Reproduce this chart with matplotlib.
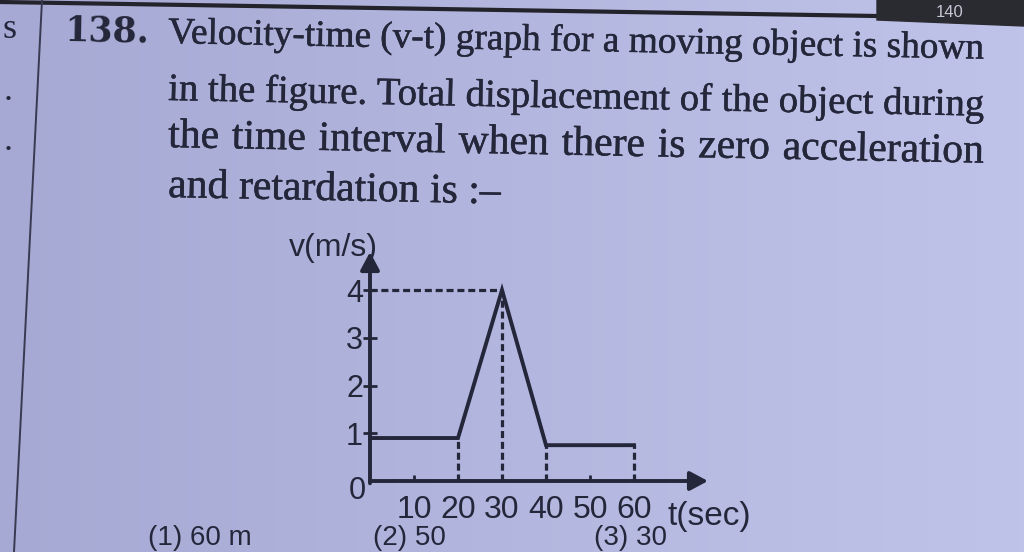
import numpy as np
import matplotlib
matplotlib.use("Agg")
import matplotlib.pyplot as plt
import matplotlib.patheffects as pe

# v-t graph data
t = [0, 20, 30, 40, 60]
v = [0.9, 0.9, 4.0, 0.75, 0.75]
x_ticks = [10, 20, 30, 40, 50, 60]
y_ticks = [1, 2, 3, 4]

question_no = "138."
question_lines = [
    "Velocity-time (v-t) graph for a moving object is shown",
    "in the figure. Total displacement of the object during",
    "the time interval when there is zero acceleration",
    "and retardation is :\u2013",
]
options = ["(1) 60 m", "(2) 50", "(3) 30"]

ink = "#24263a"
paper_left = np.array([166, 169, 211]) / 255
paper_right = np.array([192, 195, 233]) / 255

W, H, DPI = 1024, 552, 100
fig = plt.figure(figsize=(W / DPI, H / DPI), dpi=DPI)

# background "page" axes in pixel coordinates
bg = fig.add_axes([0, 0, 1, 1])
bg.set_xlim(0, W)
bg.set_ylim(H, 0)
bg.axis("off")
g = np.linspace(0, 1, 256)[:, None]
grad = paper_left + (paper_right - paper_left) * g
bg.imshow(grad[None, :, :], extent=[0, W, H, 0], aspect="auto", zorder=0)

# page edge / header bits
bg.plot([0, 877], [2, 16], color="#22232b", lw=3, zorder=1)
bg.fill([877, W, W, 877], [0, 0, 26, 20], color="#2a2b31", zorder=1)
bg.text(950, 17, "140", color="#c4c5d2", fontsize=12, ha="center",
        va="baseline", family="Liberation Sans", zorder=2)
bg.plot([42, 14], [0, H], color="#383a52", lw=1.4, zorder=1)
bg.text(2, 38, "s", fontsize=26, family="Liberation Serif", color=ink)
bg.text(4, 100, ".", fontsize=26, family="Liberation Serif", color=ink)
bg.text(4, 150, ".", fontsize=26, family="Liberation Serif", color=ink)

angle = 1.1
slope = np.tan(np.radians(angle))
renderer = fig.canvas.get_renderer()
heavy = [pe.withStroke(linewidth=0.35, foreground=ink)]


def put_line(text, x0, x1, y0, fs_max, justify=True):
    words = text.split(" ")
    objs = [bg.text(0, 0, w, fontsize=fs_max, family="Liberation Serif",
                    color=ink, ha="left", va="baseline", path_effects=heavy)
            for w in words]
    widths = [o.get_window_extent(renderer).width for o in objs]
    space = 0.25 * fs_max * DPI / 72
    natural = sum(widths) + space * (len(words) - 1)
    scale = 1.0
    if justify and natural > x1 - x0:
        scale = (x1 - x0) / natural
    widths = [w * scale for w in widths]
    if justify and len(words) > 1:
        gap = (x1 - x0 - sum(widths)) / (len(words) - 1)
    else:
        gap = space * scale
    x = x0
    for o, w in zip(objs, widths):
        o.set_fontsize(fs_max * scale)
        o.set_position((x, y0 + slope * (x - x0)))
        o.set_rotation(-angle)
        o.set_rotation_mode("anchor")
        x += w + gap


bg.text(65, 41, question_no, fontsize=25, family="DejaVu Serif",
        weight="bold", color=ink, rotation=-angle, rotation_mode="anchor")
baselines = [43, 100, 147, 197]
for i, (line, yb) in enumerate(zip(question_lines, baselines)):
    put_line(line, 168, 984, yb, 30, justify=(i < len(question_lines) - 1))

# answer options sit on the bottom edge of the photo
for txt, xo in zip(options, [148, 373, 594]):
    bg.text(xo, 545, txt, fontsize=20, family="Liberation Sans", color=ink)

# graph axes placed in pixels: t=0 at x=370, 4.4 px per s; v=0 at y=481, 47.75 px per m/s
x_org, y_org, x_tip, y_tip = 370, 481, 708, 252
ax = fig.add_axes([x_org / W, (H - y_org) / H, (x_tip - x_org) / W, (y_org - y_tip) / H])
ax.set_facecolor("none")
ax.set_xlim(0, (x_tip - x_org) / 4.4)
ax.set_ylim(0, (y_org - y_tip) / 47.75)
for s in ax.spines.values():
    s.set_visible(False)

arrow = dict(arrowstyle="-|>,head_length=0.6,head_width=0.32", lw=2.8,
             color=ink, mutation_scale=18, shrinkA=0, shrinkB=0)
ax.annotate("", xy=(1, 0), xytext=(0, 0), xycoords="axes fraction",
            arrowprops=arrow, annotation_clip=False)
ax.annotate("", xy=(0, 1), xytext=(0, -0.01), xycoords="axes fraction",
            arrowprops=arrow, annotation_clip=False)

ax.plot(t, v, color=ink, lw=2.8, clip_on=False, solid_joinstyle="miter")
dash = (0, (2.2, 1.2))
ax.vlines(t[1:], 0, v[1:], colors=ink, lw=2.3, linestyles=[dash])
ax.hlines(v[2], 0, t[2], colors=ink, lw=2.3, linestyles=[dash])

ax.set_xticks(x_ticks)
ax.set_xticklabels([str(x) for x in x_ticks], family="Liberation Sans")
ax.set_yticks(y_ticks)
ax.set_yticklabels([str(y) for y in y_ticks], family="Liberation Sans")
ax.tick_params(axis="x", direction="in", length=4, width=2, colors=ink,
               labelsize=23, pad=10)
ax.tick_params(axis="y", direction="inout", length=10, width=2, colors=ink,
               labelsize=22, pad=0)
ax.annotate("0", xy=(0, 0), xytext=(-3, -7), textcoords="offset points",
            ha="right", va="center", fontsize=22, color=ink,
            family="Liberation Sans", annotation_clip=False)

bg.text(378, 248, "v(m/s)", fontsize=23, family="Liberation Sans",
        color=ink, ha="right", va="center", zorder=3)
bg.text(668, 517, "t(sec)", fontsize=24, family="Liberation Sans",
        color=ink, ha="left", va="center", zorder=3)

fig.savefig("out.png", dpi=DPI)
